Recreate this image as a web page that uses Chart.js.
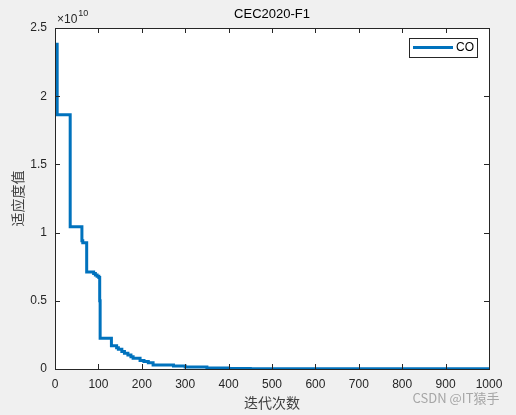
<!DOCTYPE html>
<html>
<head>
<meta charset="utf-8">
<script src="https://cdn.jsdelivr.net/npm/chart.js@4/dist/chart.umd.min.js"></script>
<style>
  html, body { margin: 0; padding: 0; background: #f0f0f0; }
  #wrap { width: 516px; height: 415px; position: relative; }
</style>
</head>
<body>
<div id="wrap"><canvas id="curveChart"></canvas></div>
<script>
// convergence curve, values in units of 1e10
var iterations = [1, 5, 35, 62, 64, 73, 89, 93, 97, 101, 103, 104, 130, 142, 146, 154, 160, 168, 175, 180, 196, 205, 215, 226, 273, 300, 350, 400, 450, 1000];
var fitness = [2.38, 1.864, 1.043, 0.94, 0.925, 0.712, 0.70, 0.69, 0.68, 0.67, 0.50, 0.225, 0.17, 0.155, 0.145, 0.128, 0.115, 0.103, 0.09, 0.078, 0.062, 0.055, 0.046, 0.03, 0.022, 0.014, 0.008, 0.004, 0.001, 0.0005];
var xTicks = [0, 100, 200, 300, 400, 500, 600, 700, 800, 900, 1000];
var yTicks = [0, 0.5, 1, 1.5, 2, 2.5];
var seriesName = 'CO';
var chartTitle = 'CEC2020-F1';
var xTitle = '迭代次数';
var yTitle = '适应度值';
var watermark = 'CSDN @IT猿手';

var SCALE = 1e10;
var points = iterations.map(function(it, i) { return { x: it, y: fitness[i] * SCALE }; });

var tickFont = { family: '"Liberation Sans", Arial, sans-serif', size: 12 };
var cjkFont = '"Noto Sans CJK SC", sans-serif';

var decorations = {
    id: 'decorations',
    afterDraw: function(chart) {
        var ctx = chart.ctx;
        var area = chart.chartArea;
        var xs = chart.scales.x, ys = chart.scales.y;
        ctx.save();

        // inward ticks on all four sides
        ctx.strokeStyle = '#262626';
        ctx.lineWidth = 1;
        ctx.beginPath();
        xTicks.forEach(function(v) {
            var px = Math.round(xs.getPixelForValue(v)) + 0.5;
            ctx.moveTo(px, area.bottom); ctx.lineTo(px, area.bottom - 5);
            ctx.moveTo(px, area.top); ctx.lineTo(px, area.top + 5);
        });
        yTicks.forEach(function(v) {
            var py = Math.round(ys.getPixelForValue(v * SCALE)) + 0.5;
            ctx.moveTo(area.left, py); ctx.lineTo(area.left + 5, py);
            ctx.moveTo(area.right, py); ctx.lineTo(area.right - 5, py);
        });
        ctx.stroke();
        // axes box
        ctx.strokeRect(Math.round(area.left) + 0.5, Math.round(area.top) + 0.5,
            Math.round(area.right - area.left), Math.round(area.bottom - area.top));

        // exponent label
        ctx.fillStyle = '#262626';
        ctx.textBaseline = 'alphabetic';
        ctx.textAlign = 'left';
        ctx.font = '12px "Liberation Sans", Arial, sans-serif';
        ctx.fillText('\u00d710', area.left + 2, area.top - 5);
        var w = ctx.measureText('\u00d710').width;
        ctx.font = '9px "Liberation Sans", Arial, sans-serif';
        ctx.fillText('10', area.left + 3 + w, area.top - 12);

        // title
        ctx.textAlign = 'center';
        ctx.textBaseline = 'middle';
        ctx.font = '13px "Liberation Sans", Arial, sans-serif';
        ctx.fillStyle = '#000';
        ctx.fillText(chartTitle, (area.left + area.right) / 2, 14);

        // axis titles
        ctx.fillStyle = '#404040';
        ctx.font = '14px ' + cjkFont;
        ctx.fillText(xTitle, (area.left + area.right) / 2, 403);
        ctx.save();
        ctx.translate(18, (area.top + area.bottom) / 2);
        ctx.rotate(-Math.PI / 2);
        ctx.fillText(yTitle, 0, 0);
        ctx.restore();

        // legend
        var ds = chart.data.datasets[0];
        ctx.fillStyle = '#fff';
        ctx.fillRect(409, 38, 68, 19);
        ctx.strokeStyle = '#262626';
        ctx.lineWidth = 1;
        ctx.strokeRect(409.5, 38.5, 68, 19);
        ctx.strokeStyle = ds.borderColor;
        ctx.lineWidth = 3;
        ctx.beginPath();
        ctx.moveTo(413, 47.5); ctx.lineTo(453, 47.5);
        ctx.stroke();
        ctx.fillStyle = '#000';
        ctx.textAlign = 'left';
        ctx.font = '12px "Liberation Sans", Arial, sans-serif';
        ctx.fillText(ds.label, 456, 48);

        // watermark
        ctx.fillStyle = '#a6a6a6';
        ctx.font = '13px ' + cjkFont;
        ctx.textAlign = 'center';
        ctx.fillText(watermark, 456, 398);
        ctx.restore();
    }
};

new Chart(document.getElementById('curveChart'), {
    type: 'line',
    data: {
        datasets: [{
            label: seriesName,
            data: points,
            borderColor: '#0072bd',
            borderWidth: 3,
            pointRadius: 0,
            stepped: 'before',
            fill: false
        }]
    },
    options: {
        responsive: true,
        maintainAspectRatio: false,
        animation: false,
        layout: { padding: { top: 28, right: 27, bottom: 0, left: 0 } },
        plugins: {
            legend: { display: false },
            tooltip: { enabled: false }
        },
        scales: {
            x: {
                type: 'linear',
                min: 0,
                max: 1000,
                afterFit: function(scale) { scale.height = 46; },
                afterBuildTicks: function(scale) { scale.ticks = xTicks.map(function(v) { return { value: v }; }); },
                grid: { display: false, drawTicks: false },
                border: { display: false },
                ticks: {
                    font: tickFont,
                    color: '#262626',
                    padding: 8,
                    maxRotation: 0,
                    callback: function(v) { return String(v); }
                }
            },
            y: {
                type: 'linear',
                min: 0,
                max: 2.5 * SCALE,
                afterFit: function(scale) { scale.width = 55; },
                afterBuildTicks: function(scale) { scale.ticks = yTicks.map(function(v) { return { value: v * SCALE }; }); },
                grid: { display: false, drawTicks: false },
                border: { display: false },
                ticks: {
                    font: tickFont,
                    color: '#262626',
                    padding: 8,
                    callback: function(v) { return String(Math.round(v / SCALE * 10) / 10); }
                }
            }
        }
    },
    plugins: [{
        id: 'chartAreaBg',
        beforeDraw: function(chart) {
            var a = chart.chartArea;
            chart.ctx.save();
            chart.ctx.fillStyle = '#fff';
            chart.ctx.fillRect(a.left, a.top, a.right - a.left, a.bottom - a.top);
            chart.ctx.restore();
        }
    }, decorations]
});
</script>
</body>
</html>
